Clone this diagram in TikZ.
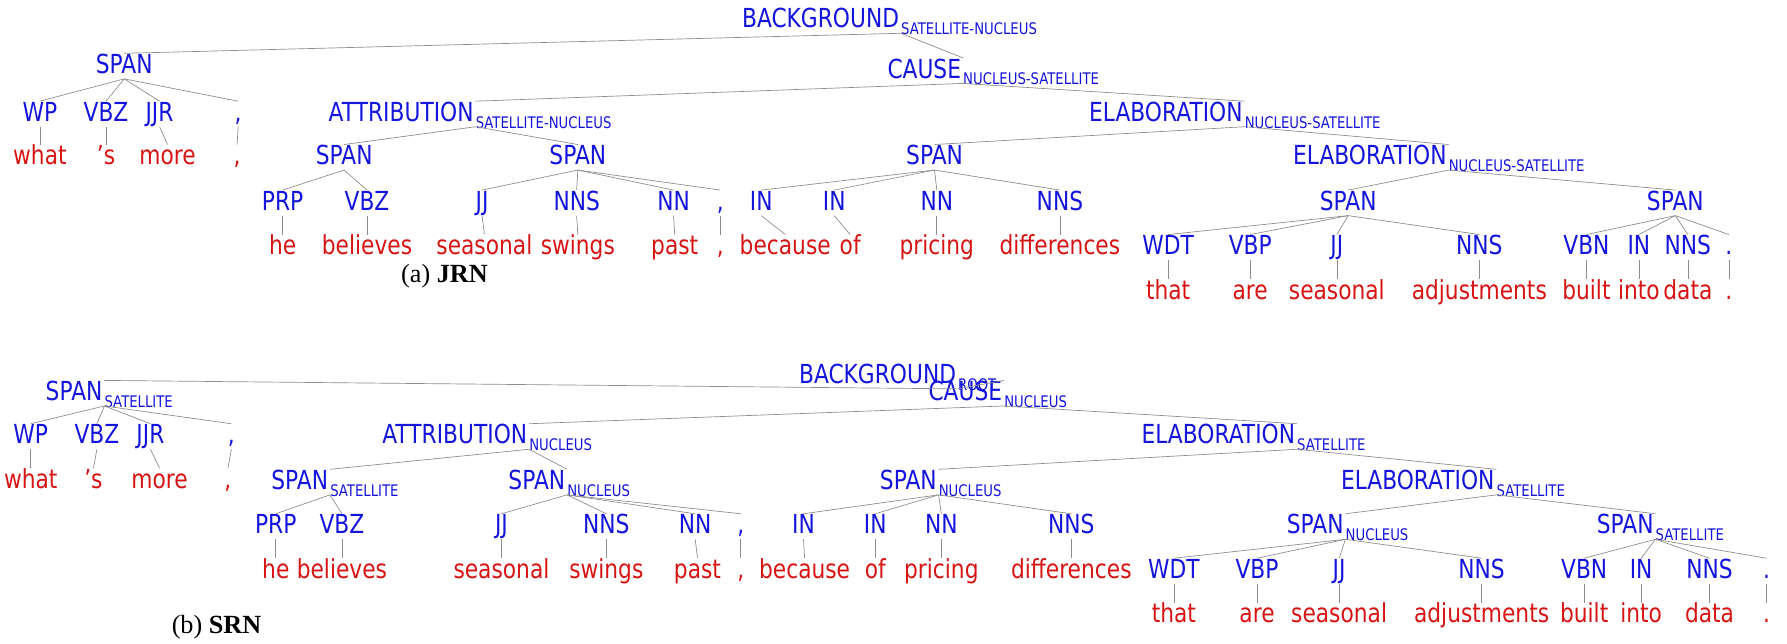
\documentclass[tikz,border=0pt]{standalone}
\usepackage{fontspec}
\setmainfont{DejaVu Sans}
\newfontfamily\capfont{Liberation Serif}
\definecolor{tb}{RGB}{20,20,220}
\definecolor{tr}{RGB}{215,20,20}
\newcommand\Nd[6]{%
  \node[#6] (#1) at (#2,#3) {\scalebox{0.83}[1]{#4}};
  \if\relax\detokenize{#5}\relax
    \coordinate (#1-t) at (#1.north); \coordinate (#1-b) at (#1.south);
  \else
    \node[subl] (#1-s) at ([yshift=-6pt]#1.base east) {\scalebox{0.83}[1]{#5}};
    \coordinate (#1-t) at (#1.north east); \coordinate (#1-b) at (#1.south east);
  \fi}
\newcommand\tlab[4]{\Nd{#1}{#2}{#3}{#4}{}{lab}}
\newcommand\twrd[4]{\Nd{#1}{#2}{#3}{#4}{}{wrd}}
\newcommand\tsub[5]{\Nd{#1}{#2}{#3}{#4}{#5}{lab}}
\newcommand\tedge[2]{\draw[edge] (#1-b) -- (#2-t);}
\begin{document}
\begin{tikzpicture}[x=1pt,y=-1pt,
  lab/.style={text=tb,font=\fontsize{23}{23}\selectfont,inner sep=1.5pt,text height=16pt,text depth=3pt,anchor=center},
  wrd/.style={lab,text=tr},
  subl/.style={text=tb,font=\fontsize{14}{14}\selectfont,inner sep=0pt,anchor=base west},
  edge/.style={draw=gray!90,line width=0.6pt}]
\useasboundingbox (0,0) rectangle (1568,565);
% ---------- (a)
\tsub{aBG}{720}{18}{BACKGROUND}{SATELLITE-NUCLEUS}
\tlab{aSP1}{109}{58}{SPAN}
\tsub{aCA}{811}{62}{CAUSE}{NUCLEUS-SATELLITE}
\tlab{aWP}{35}{100}{WP}\tlab{aVBZ}{93}{100}{VBZ}\tlab{aJJR}{140}{100}{JJR}\tlab{aC1}{209}{100}{,}
\twrd{awhat}{35}{138}{what}\twrd{as}{93}{138}{'s}\twrd{amore}{147}{138}{more}\twrd{ac1}{208}{138}{,}
\tsub{aAT}{352}{100}{ATTRIBUTION}{SATELLITE-NUCLEUS}
\tsub{aEL1}{1023}{100}{ELABORATION}{NUCLEUS-SATELLITE}
\tlab{aSP2}{302}{138}{SPAN}\tlab{aSP3}{507}{138}{SPAN}\tlab{aSP4}{820}{138}{SPAN}
\tsub{aEL2}{1202}{138}{ELABORATION}{NUCLEUS-SATELLITE}
\tlab{aPRP}{248}{178}{PRP}\tlab{aVBZb}{322}{178}{VBZ}\tlab{aJJ}{423}{178}{JJ}\tlab{aNNS}{506}{178}{NNS}\tlab{aNN}{591}{178}{NN}\tlab{aC2}{632}{178}{,}
\tlab{aIN1}{668}{178}{IN}\tlab{aIN2}{732}{178}{IN}\tlab{aNN2}{822}{178}{NN}\tlab{aNNS2}{930}{178}{NNS}
\tlab{aSP5}{1183}{178}{SPAN}\tlab{aSP6}{1470}{178}{SPAN}
\twrd{ahe}{248}{217}{he}\twrd{abel}{322}{217}{believes}\twrd{asea}{425}{217}{seasonal}\twrd{aswi}{507}{217}{swings}\twrd{apas}{592}{217}{past}\twrd{ac2}{632}{217}{,}
\twrd{abec}{689}{217}{because}\twrd{aof}{746}{217}{of}\twrd{apri}{822}{217}{pricing}\twrd{adif}{930}{217}{differences}
\tlab{aWDT}{1025}{217}{WDT}\tlab{aVBP}{1097}{217}{VBP}\tlab{aJJ2}{1173}{217}{JJ}\tlab{aNNS3}{1298}{217}{NNS}\tlab{aVBN}{1392}{217}{VBN}\tlab{aIN3}{1438}{217}{IN}\tlab{aNNS4}{1481}{217}{NNS}\tlab{aP}{1517}{217}{.}
\twrd{atha}{1025}{256}{that}\twrd{aare}{1097}{256}{are}\twrd{asea2}{1173}{256}{seasonal}\twrd{aadj}{1298}{256}{adjustments}\twrd{abui}{1392}{256}{built}\twrd{aint}{1438}{256}{into}\twrd{adat}{1481}{256}{data}\twrd{ap}{1517}{256}{.}
\node[font=\capfont\fontsize{23}{23}\selectfont,inner sep=0pt] (capa) at (390,242) {(a) \textbf{JRN}};
\tedge{aBG}{aSP1}\tedge{aBG}{aCA}
\tedge{aSP1}{aWP}\tedge{aSP1}{aVBZ}\tedge{aSP1}{aJJR}\tedge{aSP1}{aC1}
\tedge{aWP}{awhat}\tedge{aVBZ}{as}\tedge{aJJR}{amore}\tedge{aC1}{ac1}
\tedge{aCA}{aAT}\tedge{aCA}{aEL1}
\tedge{aAT}{aSP2}\tedge{aAT}{aSP3}
\tedge{aSP2}{aPRP}\tedge{aSP2}{aVBZb}
\tedge{aSP3}{aJJ}\tedge{aSP3}{aNNS}\tedge{aSP3}{aNN}\tedge{aSP3}{aC2}
\tedge{aPRP}{ahe}\tedge{aVBZb}{abel}\tedge{aJJ}{asea}\tedge{aNNS}{aswi}\tedge{aNN}{apas}\tedge{aC2}{ac2}
\tedge{aEL1}{aSP4}\tedge{aEL1}{aEL2}
\tedge{aSP4}{aIN1}\tedge{aSP4}{aIN2}\tedge{aSP4}{aNN2}\tedge{aSP4}{aNNS2}
\tedge{aIN1}{abec}\tedge{aIN2}{aof}\tedge{aNN2}{apri}\tedge{aNNS2}{adif}
\tedge{aEL2}{aSP5}\tedge{aEL2}{aSP6}
\tedge{aSP5}{aWDT}\tedge{aSP5}{aVBP}\tedge{aSP5}{aJJ2}\tedge{aSP5}{aNNS3}
\tedge{aSP6}{aVBN}\tedge{aSP6}{aIN3}\tedge{aSP6}{aNNS4}\tedge{aSP6}{aP}
\tedge{aWDT}{atha}\tedge{aVBP}{aare}\tedge{aJJ2}{asea2}\tedge{aNNS3}{aadj}\tedge{aVBN}{abui}\tedge{aIN3}{aint}\tedge{aNNS4}{adat}\tedge{aP}{ap}
% ---------- (b)
\tsub{bBG}{770}{330}{BACKGROUND}{ROOT}
\tsub{bSP1}{65}{345}{SPAN}{SATELLITE}
\tsub{bCA}{847}{345}{CAUSE}{NUCLEUS}
\tlab{bWP}{27}{383}{WP}\tlab{bVBZ}{85}{383}{VBZ}\tlab{bJJR}{132}{383}{JJR}\tlab{bC1}{203}{383}{,}
\twrd{bwhat}{27}{422}{what}\twrd{bs}{82}{422}{'s}\twrd{bmore}{140}{422}{more}\twrd{bc1}{200}{422}{,}
\tsub{bAT}{399}{383}{ATTRIBUTION}{NUCLEUS}
\tsub{bEL1}{1069}{383}{ELABORATION}{SATELLITE}
\tsub{bSP2}{263}{423}{SPAN}{SATELLITE}\tsub{bSP3}{471}{423}{SPAN}{NUCLEUS}\tsub{bSP4}{797}{423}{SPAN}{NUCLEUS}
\tsub{bEL2}{1244}{423}{ELABORATION}{SATELLITE}
\tlab{bPRP}{242}{462}{PRP}\tlab{bVBZb}{300}{462}{VBZ}\tlab{bJJ}{440}{462}{JJ}\tlab{bNNS}{532}{462}{NNS}\tlab{bNN}{610}{462}{NN}\tlab{bC2}{650}{462}{,}
\tlab{bIN1}{705}{462}{IN}\tlab{bIN2}{768}{462}{IN}\tlab{bNN2}{826}{462}{NN}\tlab{bNNS2}{940}{462}{NNS}
\tsub{bSP5}{1154}{462}{SPAN}{NUCLEUS}\tsub{bSP6}{1426}{462}{SPAN}{SATELLITE}
\twrd{bhe}{242}{501}{he}\twrd{bbel}{300}{501}{believes}\twrd{bsea}{440}{501}{seasonal}\twrd{bswi}{532}{501}{swings}\twrd{bpas}{612}{501}{past}\twrd{bc2}{650}{501}{,}
\twrd{bbec}{706}{501}{because}\twrd{bof}{768}{501}{of}\twrd{bpri}{826}{501}{pricing}\twrd{bdif}{940}{501}{differences}
\tlab{bWDT}{1030}{501}{WDT}\tlab{bVBP}{1103}{501}{VBP}\tlab{bJJ2}{1175}{501}{JJ}\tlab{bNNS3}{1300}{501}{NNS}\tlab{bVBN}{1390}{501}{VBN}\tlab{bIN3}{1440}{501}{IN}\tlab{bNNS4}{1500}{501}{NNS}\tlab{bP}{1550}{501}{.}
\twrd{btha}{1030}{540}{that}\twrd{bare}{1103}{540}{are}\twrd{bsea2}{1175}{540}{seasonal}\twrd{badj}{1300}{540}{adjustments}\twrd{bbui}{1390}{540}{built}\twrd{bint}{1440}{540}{into}\twrd{bdat}{1500}{540}{data}\twrd{bp}{1550}{540}{.}
\node[font=\capfont\fontsize{23}{23}\selectfont,inner sep=0pt] (capb) at (190,550) {(b) \textbf{SRN}};
\tedge{bBG}{bSP1}\tedge{bBG}{bCA}
\tedge{bSP1}{bWP}\tedge{bSP1}{bVBZ}\tedge{bSP1}{bJJR}\tedge{bSP1}{bC1}
\tedge{bWP}{bwhat}\tedge{bVBZ}{bs}\tedge{bJJR}{bmore}\tedge{bC1}{bc1}
\tedge{bCA}{bAT}\tedge{bCA}{bEL1}
\tedge{bAT}{bSP2}\tedge{bAT}{bSP3}
\tedge{bSP2}{bPRP}\tedge{bSP2}{bVBZb}
\tedge{bSP3}{bJJ}\tedge{bSP3}{bNNS}\tedge{bSP3}{bNN}\tedge{bSP3}{bC2}
\tedge{bPRP}{bhe}\tedge{bVBZb}{bbel}\tedge{bJJ}{bsea}\tedge{bNNS}{bswi}\tedge{bNN}{bpas}\tedge{bC2}{bc2}
\tedge{bEL1}{bSP4}\tedge{bEL1}{bEL2}
\tedge{bSP4}{bIN1}\tedge{bSP4}{bIN2}\tedge{bSP4}{bNN2}\tedge{bSP4}{bNNS2}
\tedge{bIN1}{bbec}\tedge{bIN2}{bof}\tedge{bNN2}{bpri}\tedge{bNNS2}{bdif}
\tedge{bEL2}{bSP5}\tedge{bEL2}{bSP6}
\tedge{bSP5}{bWDT}\tedge{bSP5}{bVBP}\tedge{bSP5}{bJJ2}\tedge{bSP5}{bNNS3}
\tedge{bSP6}{bVBN}\tedge{bSP6}{bIN3}\tedge{bSP6}{bNNS4}\tedge{bSP6}{bP}
\tedge{bWDT}{btha}\tedge{bVBP}{bare}\tedge{bJJ2}{bsea2}\tedge{bNNS3}{badj}\tedge{bVBN}{bbui}\tedge{bIN3}{bint}\tedge{bNNS4}{bdat}\tedge{bP}{bp}
\end{tikzpicture}
\end{document}
